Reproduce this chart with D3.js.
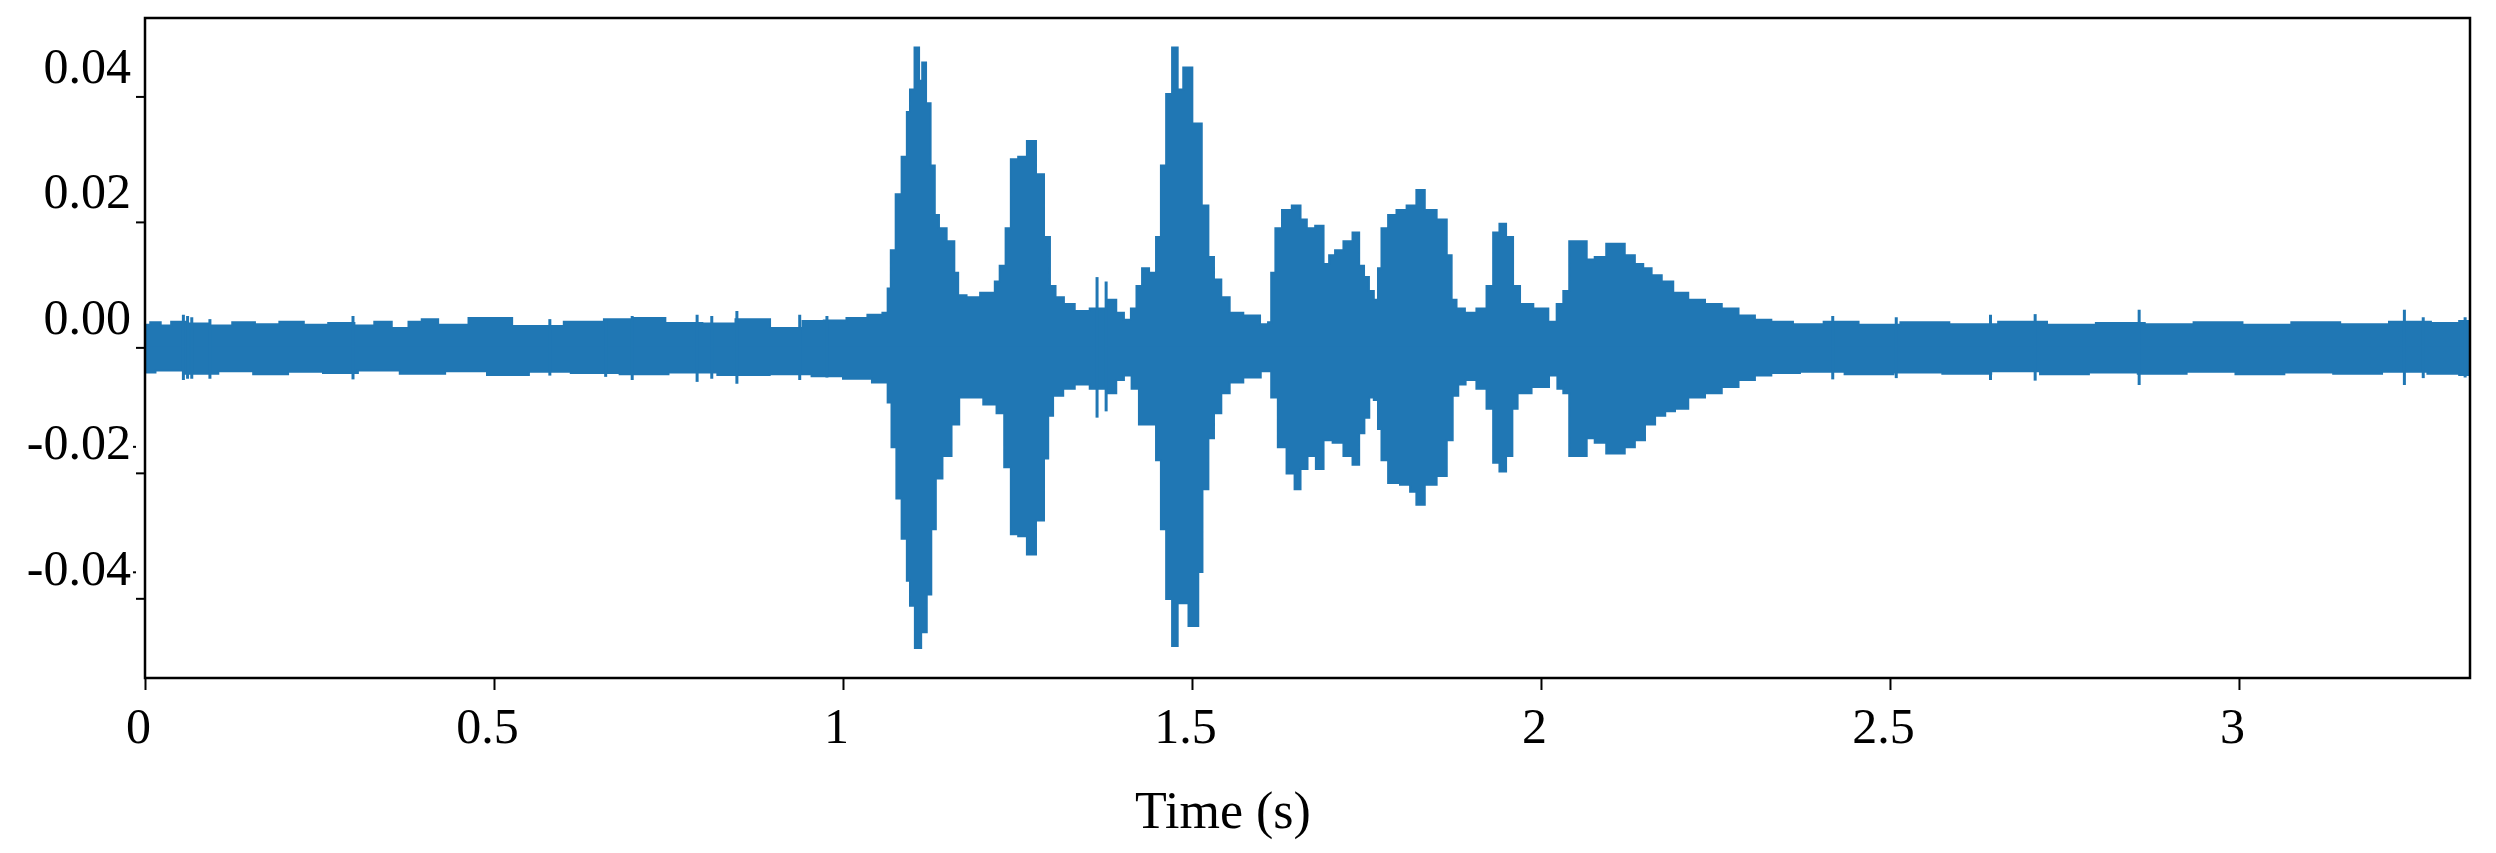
<!DOCTYPE html>
<html><head><meta charset="utf-8">
<script src="https://cdn.jsdelivr.net/npm/d3@7/dist/d3.min.js"></script>
<style>body{margin:0;background:#fff}svg{display:block}</style>
</head><body>
<svg id="chart" width="2496" height="853"></svg>
<script>
// ---- data ----
const xTicks = [0, 0.5, 1, 1.5, 2, 2.5, 3];
const yTicks = [-0.04, -0.02, 0, 0.02, 0.04];
const xDomain = [0, 3.331];
const yDomain = [-0.0527, 0.0525];

// upper envelope of waveform: time (s) and amplitude
const upperT = [0.000,0.015,0.030,0.045,0.075,0.110,0.140,0.175,0.210,0.245,0.280,0.320,0.337,0.370,0.385,0.408,0.432,0.495,0.557,0.643,0.672,0.724,0.767,0.830,0.862,0.929,0.955,0.990,1.020,1.050,1.063,
 1.065,1.072,1.079,1.089,1.094,1.098,1.107,1.111,1.116,1.122,1.129,1.134,1.141,1.156,1.163,1.167,1.187,1.206,1.215,1.220,1.229,1.237,1.244,1.258,1.269,1.284,1.292,1.301,1.308,1.325,1.339,1.368,1.387,1.396,1.409,1.416,1.425,1.432,1.445,1.452,1.459,1.467,1.476,1.483,1.492,1.509,1.519,1.528,1.535,1.549,1.559,1.588,1.607,1.611,1.616,1.623,1.635,1.651,1.660,1.669,1.684,1.693,1.700,1.710,1.724,1.736,1.743,1.750,1.757,1.764,1.769,1.774,1.788,1.798,1.817,1.826,1.841,1.860,1.870,1.874,1.884,1.898,1.917,1.927,1.936,1.945,1.955,1.965,1.975,2.003,2.018,2.027,2.037,2.044,2.061,2.070,2.084,2.103,2.113,2.127,2.142,2.151,2.166,2.180,2.199,2.223,2.247,2.271,2.295,2.318,2.342,
 2.380,2.430,2.480,2.550,2.620,2.690,2.760,2.830,2.900,2.970,3.040,3.110,3.180,3.250,3.300,3.331];
const upperV = [0.0036,0.0040,0.0035,0.0041,0.0038,0.0035,0.0040,0.0037,0.0041,0.0036,0.0039,0.0035,0.0041,0.0031,0.0041,0.0045,0.0036,0.0047,0.0034,0.0041,0.0045,0.0047,0.0039,0.0038,0.0045,0.0031,0.0042,0.0043,0.0047,0.0052,0.0055,
 0.0094,0.0155,0.0244,0.0304,0.0375,0.0411,0.0478,0.0425,0.0454,0.0389,0.0290,0.0211,0.0190,0.0169,0.0119,0.0083,0.0080,0.0087,0.0087,0.0105,0.0130,0.0190,0.0300,0.0304,0.0329,0.0276,0.0176,0.0098,0.0080,0.0069,0.0058,0.0062,0.0076,0.0055,0.0044,0.0062,0.0098,0.0126,0.0119,0.0176,0.0290,0.0404,0.0478,0.0411,0.0446,0.0357,0.0226,0.0144,0.0108,0.0080,0.0055,0.0051,0.0037,0.0040,0.0119,0.0190,0.0219,0.0226,0.0204,0.0190,0.0194,0.0133,0.0147,0.0155,0.0169,0.0183,0.0130,0.0112,0.0090,0.0076,0.0126,0.0190,0.0211,0.0219,0.0226,0.0251,0.0219,0.0204,0.0147,0.0076,0.0062,0.0055,0.0062,0.0098,0.0183,0.0197,0.0176,0.0098,0.0069,0.0062,0.0041,0.0069,0.0090,0.0169,0.0169,0.0140,0.0144,0.0165,0.0165,0.0147,0.0133,0.0126,0.0115,0.0105,0.0087,0.0076,0.0069,0.0062,0.0051,0.0044,0.0041,
 0.0037,0.0041,0.0036,0.0040,0.0037,0.0041,0.0036,0.0039,0.0037,0.0040,0.0036,0.0040,0.0037,0.0041,0.0039,0.0042];

// lower envelope of waveform
const lowerT = [0.000,0.030,0.080,0.130,0.180,0.230,0.280,0.330,0.400,0.460,0.520,0.580,0.640,0.720,0.780,0.860,0.930,0.980,1.020,1.063,
 1.065,1.074,1.079,1.089,1.094,1.098,1.108,1.116,1.124,1.129,1.137,1.148,1.163,1.170,1.187,1.215,1.225,1.237,1.244,1.258,1.269,1.284,1.292,1.296,1.306,1.325,1.339,1.368,1.387,1.396,1.409,1.418,1.430,1.445,1.452,1.459,1.467,1.476,1.483,1.507,1.511,1.519,1.528,1.535,1.549,1.559,1.588,1.609,1.618,1.628,1.643,1.651,1.660,1.671,1.684,1.693,1.710,1.724,1.736,1.743,1.751,1.757,1.764,1.769,1.774,1.788,1.808,1.817,1.826,1.841,1.860,1.870,1.877,1.886,1.898,1.917,1.927,1.936,1.945,1.955,1.963,1.970,2.003,2.020,2.027,2.037,2.044,2.061,2.070,2.084,2.103,2.113,2.127,2.142,2.156,2.171,2.185,2.199,2.223,2.247,2.271,2.295,2.318,2.342,
 2.400,2.470,2.540,2.610,2.680,2.750,2.820,2.890,2.960,3.030,3.100,3.170,3.240,3.300,3.331];
const lowerV = [-0.0040,-0.0037,-0.0042,-0.0038,-0.0043,-0.0039,-0.0041,-0.0037,-0.0042,-0.0038,-0.0044,-0.0039,-0.0041,-0.0043,-0.0040,-0.0044,-0.0043,-0.0046,-0.0050,-0.0056,
 -0.0088,-0.0159,-0.0241,-0.0305,-0.0372,-0.0412,-0.0479,-0.0454,-0.0394,-0.0290,-0.0209,-0.0173,-0.0123,-0.0080,-0.0080,-0.0091,-0.0105,-0.0191,-0.0298,-0.0301,-0.0330,-0.0276,-0.0177,-0.0109,-0.0077,-0.0066,-0.0059,-0.0066,-0.0073,-0.0052,-0.0045,-0.0066,-0.0123,-0.0123,-0.0180,-0.0290,-0.0401,-0.0476,-0.0408,-0.0444,-0.0358,-0.0226,-0.0145,-0.0105,-0.0073,-0.0056,-0.0048,-0.0038,-0.0080,-0.0159,-0.0201,-0.0226,-0.0194,-0.0173,-0.0194,-0.0148,-0.0152,-0.0173,-0.0187,-0.0137,-0.0112,-0.0080,-0.0084,-0.0130,-0.0180,-0.0216,-0.0219,-0.0230,-0.0251,-0.0219,-0.0205,-0.0148,-0.0077,-0.0059,-0.0052,-0.0066,-0.0098,-0.0184,-0.0198,-0.0173,-0.0098,-0.0073,-0.0063,-0.0045,-0.0066,-0.0073,-0.0173,-0.0173,-0.0145,-0.0152,-0.0169,-0.0169,-0.0159,-0.0148,-0.0123,-0.0109,-0.0102,-0.0098,-0.0080,-0.0073,-0.0063,-0.0052,-0.0045,-0.0041,
 -0.0039,-0.0043,-0.0040,-0.0042,-0.0038,-0.0043,-0.0040,-0.0042,-0.0039,-0.0043,-0.0040,-0.0042,-0.0039,-0.0042,-0.0044];

// isolated spikes: time, max, min
const spikeT  = [0.055,0.061,0.067,0.093,0.298,0.580,0.660,0.698,0.791,0.812,0.848,0.938,0.977,1.364,1.377,2.418,2.509,2.644,2.708,2.857,3.237,3.264,3.324];
const spikeHi = [0.0052,0.0050,0.0048,0.0045,0.0050,0.0045,0.0045,0.0050,0.0052,0.0050,0.0058,0.0052,0.0050,0.0112,0.0105,0.0050,0.0048,0.0052,0.0053,0.0060,0.0060,0.0048,0.0048];
const spikeLo = [-0.0052,-0.0050,-0.0050,-0.0050,-0.0051,-0.0045,-0.0047,-0.0052,-0.0055,-0.0050,-0.0058,-0.0052,-0.0048,-0.0112,-0.0102,-0.0051,-0.0049,-0.0052,-0.0053,-0.0060,-0.0060,-0.0049,-0.0048];

const xLabel = "Time (s)";

// ---- layout ----
const L = 145, R = 2470, T = 18, B = 678;
const blue = "#2077b4";
const svg = d3.select("#chart");
svg.append("rect").attr("width",2496).attr("height",853).attr("fill","#fff");

const x = d3.scaleLinear().domain(xDomain).range([L, R]);
const y = d3.scaleLinear().domain(yDomain).range([B, T]);

svg.append("clipPath").attr("id","plotclip").append("rect")
  .attr("x",L).attr("y",T).attr("width",R-L).attr("height",B-T);

const g = svg.append("g").attr("clip-path","url(#plotclip)");

const up = upperT.map((t,i)=>({t, v:upperV[i]}));
const lo = lowerT.map((t,i)=>({t, v:lowerV[i]}));
const area = d3.area().x(d=>x(d.t)).y0(y(0)).y1(d=>y(d.v)).curve(d3.curveStep);
g.append("path").datum(up).attr("d",area).attr("fill",blue).attr("stroke",blue).attr("stroke-width",2);
g.append("path").datum(lo).attr("d",area).attr("fill",blue).attr("stroke",blue).attr("stroke-width",2);

g.selectAll("line.spike").data(spikeT).join("line").attr("class","spike")
  .attr("x1",d=>x(d)).attr("x2",d=>x(d))
  .attr("y1",(d,i)=>y(spikeHi[i])).attr("y2",(d,i)=>y(spikeLo[i]))
  .attr("stroke",blue).attr("stroke-width",3);

// frame
svg.append("rect").attr("x",L).attr("y",T).attr("width",R-L).attr("height",B-T)
  .attr("fill","none").attr("stroke","#000").attr("stroke-width",2.5);

const font = "'Liberation Serif', 'Times New Roman', serif";

// x axis
const xa = svg.append("g").attr("transform",`translate(0,${B})`)
  .call(d3.axisBottom(x).tickValues(xTicks).tickFormat(d=>String(d)).tickSize(12));
xa.select(".domain").remove();
xa.selectAll(".tick line").attr("stroke","#000").attr("stroke-width",2);
xa.selectAll(".tick text").attr("y",65).attr("dy",0).attr("dx",-7)
  .attr("font-family",font).attr("font-size",50).attr("fill","#000");

// y axis
const ya = svg.append("g").attr("transform",`translate(${L},0)`)
  .call(d3.axisLeft(y).tickValues(yTicks).tickFormat(d=>d.toFixed(2)).tickSize(9));
ya.select(".domain").remove();
ya.selectAll(".tick line").attr("stroke","#000").attr("stroke-width",2);
ya.selectAll(".tick text").attr("x",-14).attr("y",-14).attr("dy",0)
  .attr("text-anchor","end").attr("font-family",font).attr("font-size",50).attr("fill","#000");

// small marks beside the lower labels
svg.selectAll("rect.mk").data([-0.02,-0.04]).join("rect").attr("class","mk")
  .attr("x",L-12).attr("y",d=>y(d)-27).attr("width",3).attr("height",2).attr("fill","#000");

// axis title
svg.append("text").attr("x",1223).attr("y",828).attr("text-anchor","middle")
  .attr("font-family",font).attr("font-size",52).attr("fill","#000").text(xLabel);
</script>
</body></html>
